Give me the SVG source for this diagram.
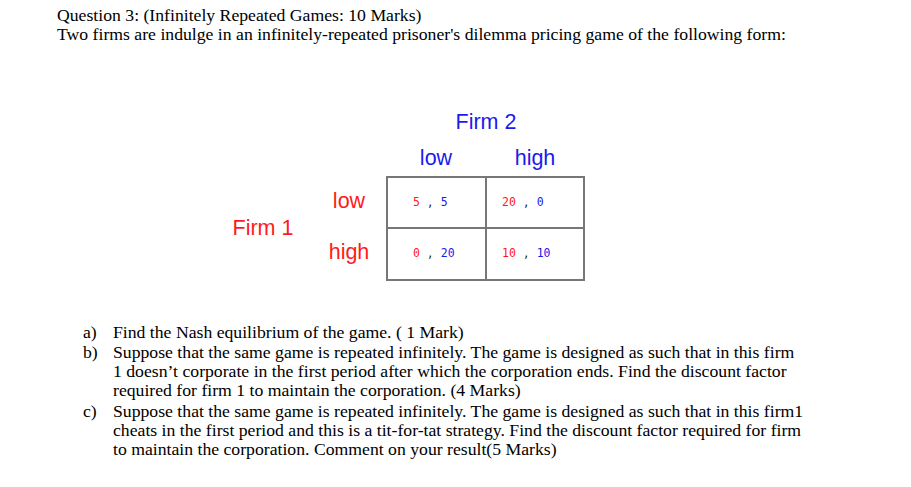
<svg xmlns="http://www.w3.org/2000/svg" width="911" height="487" viewBox="0 0 911 487">
<style>
.t{font-family:"Liberation Serif",serif;font-size:17.7px;fill:#000}
.s{font-family:"Liberation Sans",sans-serif;font-size:21.5px}
.r{fill:#ff1a1a}.b{fill:#1a1aee}
.m{font-family:"DejaVu Sans Mono",monospace;font-size:11.5px;white-space:pre}
.c{fill:#333}
</style>
<rect width="911" height="487" fill="#fff"/>
<text class="t" x="57" y="21">Question 3: (Infinitely Repeated Games: 10 Marks)</text>
<text class="t" x="57" y="40">Two firms are indulge in an infinitely-repeated prisoner's dilemma pricing game of the following form:</text>
<g id="labels">
<text class="s b" x="486" y="129" text-anchor="middle">Firm 2</text>
<text class="s b" x="436" y="165" text-anchor="middle">low</text>
<text class="s b" x="535" y="165" text-anchor="middle">high</text>
<text class="s r" x="263" y="235" text-anchor="middle">Firm 1</text>
<text class="s r" x="349" y="208" text-anchor="middle">low</text>
<text class="s r" x="349" y="259" text-anchor="middle">high</text>
</g>
<g id="matrix" fill="none" stroke="#777" stroke-width="2">
<rect x="387" y="177" width="197" height="103"/>
<line x1="486" y1="177" x2="486" y2="280"/>
<line x1="387" y1="228" x2="584" y2="228"/>
</g>
<g id="payoffs" class="m" xml:space="preserve">
<text x="413" y="206"><tspan class="r">5</tspan><tspan class="c"> ,  </tspan><tspan class="b"> 5</tspan></text>
<text x="502" y="206"><tspan class="r">20</tspan><tspan class="c"> ,  </tspan><tspan class="b"> 0</tspan></text>
<text x="413" y="257"><tspan class="r">0</tspan><tspan class="c"> , </tspan><tspan class="b">20</tspan></text>
<text x="502" y="257"><tspan class="r">10</tspan><tspan class="c"> , </tspan><tspan class="b">10</tspan></text>
</g>
<g class="t">
<text x="83" y="338">a)</text><text x="113" y="338">Find the Nash equilibrium of the game. ( 1 Mark)</text>
<text x="83" y="358">b)</text><text x="113" y="358">Suppose that the same game is repeated infinitely. The game is designed as such that in this firm</text>
<text x="113" y="377">1 doesn’t corporate in the first period after which the corporation ends. Find the discount factor</text>
<text x="113" y="396">required for firm 1 to maintain the corporation. (4 Marks)</text>
<text x="83" y="417">c)</text><text x="113" y="417">Suppose that the same game is repeated infinitely. The game is designed as such that in this firm1</text>
<text x="113" y="436">cheats in the first period and this is a tit-for-tat strategy. Find the discount factor required for firm</text>
<text x="113" y="455">to maintain the corporation. Comment on your result(5 Marks)</text>
</g>
</svg>
